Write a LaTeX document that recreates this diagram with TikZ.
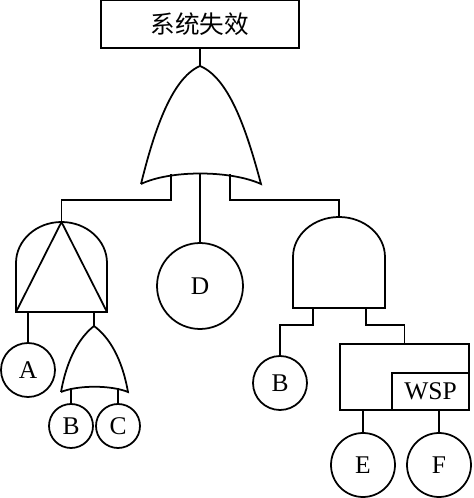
\documentclass[tikz,border=0pt]{standalone}
\usepackage{fontspec}
\setmainfont{Liberation Serif}
\newfontfamily\cjk{Noto Sans CJK SC}
\usepackage{tikz}

\tikzset{
  event/.style={draw, circle, inner sep=0pt, font=\fontsize{14.5}{17}\selectfont},
  topbox/.style={draw, inner sep=0pt, font=\cjk\fontsize{14}{16}\selectfont},
  wspbox/.style={draw, inner sep=0pt, font=\fontsize{14.5}{17}\selectfont},
}

\begin{document}
\begin{tikzpicture}[x=0.02cm,y=0.02cm,line width=1pt]
\useasboundingbox (0,0) rectangle (474,498);
\node[topbox, minimum width=3.96cm, minimum height=0.96cm] (top) at (200,474) {系统失效};
% top OR gate
\draw (141,314) .. controls (153,362.5) and (170.6,419.5) .. (200,432)
      .. controls (230.4,419.5) and (248,362.5) .. (261,314)
      .. controls (230,328) and (170,328) .. (141,314);
\coordinate (or1) at (200,432);
\coordinate (or1-l) at (171,324);
\coordinate (or1-m) at (200,325);
\coordinate (or1-r) at (230,324);
\draw (top) -- (or1);
% left AND gate with triangle
\draw (16,186) -- (16,235) arc[start angle=180, end angle=0, x radius=45.5, y radius=41] -- (107,186) -- cycle;
\coordinate (and1) at (61.5,276);
\draw (16,186) -- (and1) -- (107,186);
% small OR gate
\draw (61,106) .. controls (67,140) and (80,161) .. (94,172)
      .. controls (109,161) and (122,140) .. (128,106)
      .. controls (111,113) and (78,113) .. (61,106);
\coordinate (or2) at (94,172);
% right AND gate
\draw (293,190) -- (293,241) arc[start angle=180, end angle=0, x radius=46, y radius=40] -- (385,190) -- cycle;
\coordinate (and2) at (339,281);
% events
\node[event, minimum size=1.72cm] (D) at (200,212) {D};
\node[event, minimum size=1.08cm] (A) at (28,128) {A};
\node[event, minimum size=0.88cm] (B) at (71,72) {B};
\node[event, minimum size=0.88cm] (C) at (118,72) {C};
\node[event, minimum size=1.08cm] (B2) at (280,115) {B};
\node[draw, minimum width=2.58cm, minimum height=1.32cm] (box) at (404.5,121) {};
\node[wspbox, minimum width=1.54cm, minimum height=0.74cm] (wsp) at (430.5,106.5) {WSP};
\node[event, minimum size=1.28cm] (E) at (363,33) {E};
\node[event, minimum size=1.28cm] (F) at (439,33) {F};
% connectors
\draw (or1-l) -- (171,298) -| (and1);
\draw (or1-m) -- (D);
\draw (or1-r) -- (230,298) -| (and2);
\draw (28,186) -- (A);
\draw (94,186) -- (or2);
\draw (71,110) -- (B);
\draw (118,110) -- (C);
\draw (313,190) -- (313,173) -| (B2);
\draw (366,190) -- (366,173) -| (box);
\draw (box.south -| E) -- (E);
\draw (box.south -| F) -- (F);
\end{tikzpicture}
\end{document}
